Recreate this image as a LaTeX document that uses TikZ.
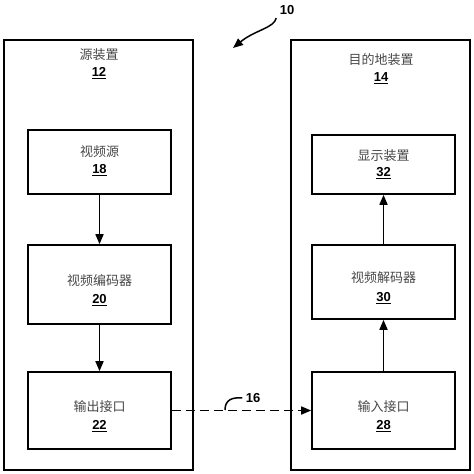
\documentclass[tikz,border=0pt]{standalone}
\usepackage{fontspec}
\setmainfont{Liberation Sans}
\newfontfamily\cjk{Noto Sans CJK SC}
\usetikzlibrary{arrows.meta}
\begin{document}
\begin{tikzpicture}[x=1pt,y=-1pt,
  outerbox/.style={draw,line width=1.6pt},
  innerbox/.style={draw,line width=1.6pt},
  zh/.style={font=\cjk\fontsize{13}{15}\selectfont,text=black!72},
  num/.style={font=\bfseries\fontsize{13}{15}\selectfont},
  flow/.style={line width=1.6pt,-{Triangle[length=10pt,width=8pt]}},
  lead/.style={line width=1.5pt}]
\useasboundingbox (0,0) rectangle (474,474);
% outer boxes
\draw[outerbox] (4,40) rectangle (193,470);
\draw[outerbox] (291,40) rectangle (470,470);
\node[zh] (srcT) at (99,55) {源装置};
\node[num] (srcN) at (99,73) {\underline{12}};
\node[zh] (dstT) at (381,60) {目的地装置};
\node[num] (dstN) at (381,78) {\underline{14}};
% inner boxes left
\node[innerbox,minimum width=143pt,minimum height=64pt] (b18) at (99.5,162) {};
\node[zh] at (99.5,152) {视频源};
\node[num] at (99.5,170) {\underline{18}};
\node[innerbox,minimum width=143pt,minimum height=79pt] (b20) at (99.5,284.5) {};
\node[zh] at (99.5,281) {视频编码器};
\node[num] at (99.5,300) {\underline{20}};
\node[innerbox,minimum width=143pt,minimum height=77pt] (b22) at (99.5,410.5) {};
\node[zh] at (99.5,407) {输出接口};
\node[num] at (99.5,426) {\underline{22}};
% inner boxes right
\node[innerbox,minimum width=143pt,minimum height=59pt] (b32) at (383.5,164.5) {};
\node[zh] at (383.5,156) {显示装置};
\node[num] at (383.5,173) {\underline{32}};
\node[innerbox,minimum width=143pt,minimum height=74pt] (b30) at (383.5,282) {};
\node[zh] at (383.5,278) {视频解码器};
\node[num] at (383.5,298) {\underline{30}};
\node[innerbox,minimum width=143pt,minimum height=77pt] (b28) at (383.5,410.5) {};
\node[zh] at (383.5,407) {输入接口};
\node[num] at (383.5,426) {\underline{28}};
% arrows
\draw[flow] (b18) -- (b20);
\draw[flow] (b20) -- (b22);
\draw[flow] (b28) -- (b30);
\draw[flow] (b30) -- (b32);
\draw[flow,dash pattern=on 9pt off 5pt] (b22.east) -- (b28.west);
% label 16
\node[num] (l16) at (253,398) {16};
\coordinate (c16) at (225,410);
\draw[lead] (c16) .. controls (225,400) and (232,397) .. (l16.west);
% label 10
\node[num] (l10) at (287,10) {10};
\coordinate (c10) at (233,48);
\draw[lead,-{Triangle[length=10pt,width=8pt]}] (l10.south west) .. controls (274,28) and (255,30) .. (c10);
\end{tikzpicture}
\end{document}
